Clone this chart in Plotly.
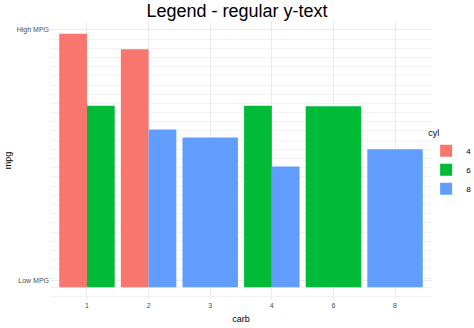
import plotly.graph_objects as go

carb_levels = ["1", "2", "3", "4", "6", "8"]
cyl_levels = ["4", "6", "8"]
cyl_colors = {"4": "#F8766D", "6": "#00BA38", "8": "#619CFF"}

# mean mpg by carb and cyl (from picture / mtcars)
carb_4 = ["1", "2"]
mpg_4 = [27.58, 25.9]
carb_6 = ["1", "4", "6"]
mpg_6 = [19.75, 19.75, 19.7]
carb_8 = ["2", "3", "4", "8"]
mpg_8 = [17.15, 16.3, 13.15, 15.0]

y_tick_vals = [0.75, 28.05]
y_tick_text = ["Low MPG", "High MPG"]

series = {"4": (carb_4, mpg_4), "6": (carb_6, mpg_6), "8": (carb_8, mpg_8)}

# dodge layout (like ggplot position_dodge with width 0.9)
groups = {c: [cy for cy in cyl_levels if c in series[cy][0]] for c in carb_levels}
dodge = 0.9

fig = go.Figure()
for cy in cyl_levels:
    xs, ys = series[cy]
    widths, offsets = [], []
    for c in xs:
        g = groups[c]
        n = len(g)
        k = g.index(cy)
        w = dodge / n
        widths.append(w)
        offsets.append(-dodge / 2 + k * w)
    fig.add_trace(go.Bar(
        x=xs, y=ys, name=cy, width=widths, offset=offsets,
        marker=dict(color=cyl_colors[cy], line=dict(width=0)),
    ))

fig.update_layout(
    width=474, height=328,
    margin=dict(l=50, r=42, t=21, b=28, autoexpand=False),
    paper_bgcolor="white", plot_bgcolor="white",
    barmode="overlay",
    font=dict(family="Liberation Sans, Arial, sans-serif", color="#4D4D4D"),
    title=dict(text="Legend - regular y-text", x=0.5, xanchor="center",
               y=0.968, yanchor="middle",
               font=dict(size=18, color="black")),
    legend=dict(title=dict(text="cyl", font=dict(size=9, color="black")),
                font=dict(size=8, color="black"),
                xref="container", x=0.899, xanchor="left",
                yref="container", y=0.50, yanchor="middle",
                tracegroupgap=0, itemwidth=30, bgcolor="rgba(0,0,0,0)"),
    showlegend=True,
)
fig.update_xaxes(
    type="category", categoryorder="array", categoryarray=carb_levels,
    range=[-0.6, len(carb_levels) - 0.4], automargin=False,
    showgrid=True, gridcolor="#EBEBEB", gridwidth=1,
    zeroline=False, showline=False, ticks="",
    tickfont=dict(size=7, color="#4D4D4D"),
    title=dict(text="carb", font=dict(size=9, color="black"), standoff=7),
)
fig.update_yaxes(
    range=[-1.38, 28.96], automargin=False,
    tickmode="array", tickvals=y_tick_vals, ticktext=y_tick_text,
    showgrid=True, gridcolor="#EBEBEB", gridwidth=1,
    minor=dict(tick0=0, dtick=1, showgrid=True, gridcolor="#F2F2F2", gridwidth=1),
    zeroline=False, showline=False, ticks="",
    tickfont=dict(size=7, color="#4D4D4D"),
    title=dict(text="mpg", font=dict(size=9, color="black"), standoff=3),
)

fig.write_html("out.html")
